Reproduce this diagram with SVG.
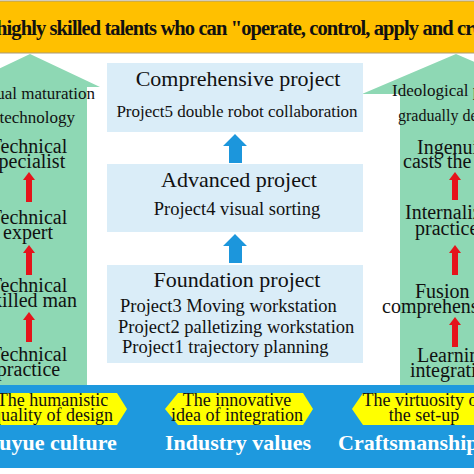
<svg xmlns="http://www.w3.org/2000/svg" width="474" height="474" viewBox="0 0 474 474">
<defs>
<style>
.serif{font-family:"Liberation Serif","Times New Roman",serif;}
.box{fill:#DAEDF8;}
.green{fill:#8ED8B4;}
.tag{fill:#FFFF00;}
.t{fill:#111;}
.title{font-size:22px;}
.sub{font-size:18.5px;}
.side{font-size:20px;}
.tagt{font-size:18px;}
.lab{font-size:22px;font-weight:bold;fill:#fff;}
.red{fill:#E5141B;}
.blue{fill:#1C96DC;}
</style>
</defs>
<rect width="474" height="474" fill="#fff"/>

<g id="banner">
<rect x="-2" y="1" width="478" height="52" fill="#FFC000" stroke="#A8997A" stroke-width="1"/>
<text class="serif t" x="-4" y="35" font-size="20.5" font-weight="bold" letter-spacing="-0.9">highly skilled talents who can "operate, control, apply and create"</text>
</g>

<g id="left-arrow">
<polygon class="green" points="30,54 100,87 87,87 87,390 -27,390 -27,87 -40,87"/>
<text class="serif t" font-size="17" text-anchor="end" x="95" y="99">Gradual maturation</text>
<text class="serif t" font-size="17" text-anchor="end" x="75" y="123">of technology</text>
</g>
<g id="tech-specialist">
<text class="serif t side" text-anchor="middle" x="28.5" y="153">Technical</text>
<text class="serif t side" text-anchor="middle" x="28" y="168">specialist</text>
</g>
<g id="tech-expert">
<text class="serif t side" text-anchor="middle" x="28.5" y="224">Technical</text>
<text class="serif t side" text-anchor="middle" x="28" y="239">expert</text>
</g>
<g id="tech-skilled">
<text class="serif t side" text-anchor="middle" x="28.5" y="292">Technical</text>
<text class="serif t side" text-anchor="end" x="77" y="307">skilled man</text>
</g>
<g id="tech-practice">
<text class="serif t side" text-anchor="middle" x="28.5" y="361">Technical</text>
<text class="serif t side" text-anchor="middle" x="28.5" y="376">practice</text>
</g>

<g id="right-arrow">
<polygon class="green" points="456,54 550,94 512,94 512,390 400,390 400,94 362,94"/>
<text class="serif t" font-size="17" x="392" y="96">Ideological progress</text>
<text class="serif t" font-size="16" x="398" y="121">gradually deepened</text>
</g>
<g id="ingenuity">
<text class="serif t side" x="417" y="154">Ingenuity</text>
<text class="serif t side" x="403" y="168">casts the soul</text>
</g>
<g id="internalization">
<text class="serif t side" x="405" y="219">Internalization</text>
<text class="serif t side" x="415" y="235">practice</text>
</g>
<g id="fusion">
<text class="serif t side" x="415" y="298">Fusion and</text>
<text class="serif t side" x="382" y="313">comprehension</text>
</g>
<g id="learning">
<text class="serif t side" x="417" y="362">Learning</text>
<text class="serif t side" x="410" y="377">integration</text>
</g>

<g id="comprehensive">
<rect class="box" x="107" y="63" width="256" height="69"/>
<text class="serif t title" text-anchor="middle" x="238" y="86">Comprehensive project</text>
<text class="serif t" font-size="17" text-anchor="middle" x="237" y="117">Project5 double robot collaboration</text>
</g>
<g id="advanced">
<rect class="box" x="107" y="164" width="256" height="68"/>
<text class="serif t title" text-anchor="middle" x="239" y="187">Advanced project</text>
<text class="serif t" font-size="18.5" text-anchor="middle" x="237" y="215">Project4 visual sorting</text>
</g>
<g id="foundation">
<rect class="box" x="107" y="265" width="256" height="98"/>
<text class="serif t title" text-anchor="middle" x="237" y="287">Foundation project</text>
<text class="serif t sub" x="120" y="312">Project3 Moving workstation</text>
<text class="serif t sub" x="118" y="333">Project2 palletizing workstation</text>
<text class="serif t sub" x="122" y="353">Project1 trajectory planning</text>
</g>

<g id="connectors">
<polygon class="blue" points="235,134 247,146 242,146 242,163 229,163 229,146 223,146"/>
<polygon class="blue" points="235,234 247,246 242,246 242,263 229,263 229,246 223,246"/>
<polygon class="red" points="29,172 35,180 32,180 32,202 26,202 26,180 23,180"/>
<polygon class="red" points="29,245 35,253 32,253 32,275 26,275 26,253 23,253"/>
<polygon class="red" points="29,312 35,320 32,320 32,342 26,342 26,320 23,320"/>
<polygon class="red" points="455,172 461,180 458,180 458,200 452,200 452,180 449,180"/>
<polygon class="red" points="455,245 461,253 458,253 458,275 452,275 452,253 449,253"/>
<polygon class="red" points="455,317 461,325 458,325 458,347 452,347 452,325 449,325"/>
</g>

<g id="bottom-band">
<rect x="-2" y="385" width="478" height="83" fill="#1E99DE"/>
</g>
<g id="chuyue">
<polygon class="tag" points="-20,393 117,393 127,409 117,425 -20,425"/>
<text class="serif t tagt" text-anchor="middle" x="52.5" y="406">The humanistic</text>
<text class="serif t tagt" text-anchor="middle" x="52.5" y="421">quality of design</text>
<text class="serif lab" text-anchor="middle" x="44" y="450">Chuyue culture</text>
</g>
<g id="industry">
<polygon class="tag" points="165,409 178,393 303,393 313,409 303,425 178,425"/>
<text class="serif t tagt" text-anchor="middle" x="237" y="406">The innovative</text>
<text class="serif t tagt" text-anchor="middle" x="237" y="421">idea of integration</text>
<text class="serif lab" text-anchor="middle" x="238" y="450">Industry values</text>
</g>
<g id="craftsmanship">
<polygon class="tag" points="352,409 363,393 500,393 500,425 363,425"/>
<text class="serif t tagt" text-anchor="middle" x="423" y="406">The virtuosity of</text>
<text class="serif t tagt" text-anchor="middle" x="424" y="421">the set-up</text>
<text class="serif lab" x="338" y="450">Craftsmanship</text>
</g>
</svg>
